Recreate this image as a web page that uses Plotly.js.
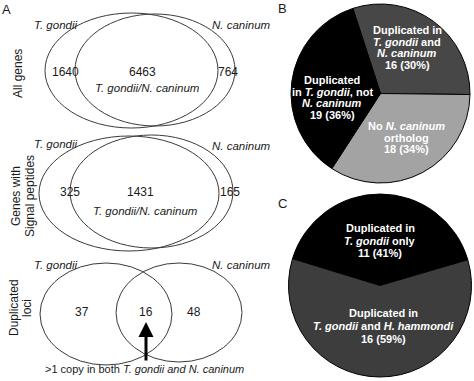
<!DOCTYPE html>
<html><head><meta charset="utf-8">
<script src="https://cdn.plot.ly/plotly-3.0.1.min.js"></script>
<style>html,body{margin:0;padding:0;background:#fff}#chart{width:474px;height:381px}</style>
</head><body><div id="chart"></div>
<script>
// ---- data ----
const vennRows = ['All genes', 'Genes with|Signal peptides', 'Duplicated|loci'];
const tgOnly = [1640, 325, 37];
const shared = [6463, 1431, 16];
const ncOnly = [764, 165, 48];
const speciesA = 'T. gondii';
const speciesB = 'N. caninum';
const sharedLabel = 'T. gondii/N. caninum';
const arrowLabel = '>1 copy in both <i>T. gondii and N. caninum</i>';

const pieBLabels = [
  ['Duplicated in', '<i>T. gondii</i> and', '<i>N. caninum</i>'],
  ['No <i>N. caninum</i>', 'ortholog'],
  ['Duplicated', 'in <i>T. gondii</i>, not', '<i>N. caninum</i>']
];
const pieBValues = [16, 18, 19];
const pieBColors = ['#474747', '#a3a3a3', '#000000'];

const pieCLabels = [
  ['Duplicated in', '<i>T. gondii</i> only'],
  ['Duplicated in', '<i>T. gondii</i> and <i>H. hammondi</i>']
];
const pieCValues = [11, 16];
const pieCColors = ['#000000', '#3d3d3d'];

// ---- layout geometry (pixels) ----
const W = 474, H = 381;
const FONT = 'Arial, "Liberation Sans", sans-serif';
const venn = [
  {tg:[45,13,218,128], nc:[75,14,235,126], lblY:25, numY:72, subY:88, x1:65, x2:142, x3:228, rowX:[18], rowY:74},
  {tg:[39,136,219,251], nc:[70,135,233,248], lblY:144, numY:192, subY:211, x1:70, x2:140, x3:230, rowX:[16,30], rowY:196},
  {tg:[40,263,172,365], nc:[116,263,242,362], lblY:265, numY:312, subY:null, x1:82, x2:146, x3:194, rowX:[14,27], rowY:308}
];

const shapes = [], ann = [];
function txt(x, y, text, opt) {
  ann.push(Object.assign({x:x, y:y, xref:'x', yref:'y', text:text, showarrow:false,
    font:{family:FONT, size:12, color:'#1a1a1a'}, xanchor:'center', yanchor:'middle'}, opt||{}));
}
venn.forEach((g, i) => {
  [g.tg, g.nc].forEach(e => shapes.push({type:'circle', xref:'x', yref:'y',
    x0:e[0], y0:e[1], x1:e[2], y1:e[3], line:{color:'#3a3a3a', width:1}}));
  txt(32, g.lblY, '<i>' + speciesA + '</i>', {xanchor:'left', font:{family:FONT, size:11.5, color:'#1a1a1a'}});
  txt(210, g.lblY + (i===1?2:0), '<i>' + speciesB + '</i>', {xanchor:'left', font:{family:FONT, size:11.5, color:'#1a1a1a'}});
  txt(g.x1, g.numY, String(tgOnly[i]));
  txt(g.x2, g.numY, String(shared[i]));
  txt(g.x3, g.numY, String(ncOnly[i]));
  if (g.subY) txt(g.x2 + 5, g.subY, '<i>' + sharedLabel + '</i>', {font:{family:FONT, size:11.5, color:'#1a1a1a'}});
  vennRows[i].split('|').forEach((ln, k) => txt(g.rowX[k], g.rowY, ln, {textangle:-90}));
});
// arrow
ann.push({x:146, y:322, ax:146, ay:362, xref:'x', yref:'y', axref:'x', ayref:'y', text:'',
  showarrow:true, arrowhead:2, arrowsize:1, arrowwidth:3, arrowcolor:'#000'});
txt(43, 369, arrowLabel, {xanchor:'left', font:{family:FONT, size:11, color:'#1a1a1a'}});
// panel letters
txt(6, 9, 'A', {font:{family:FONT, size:13, color:'#1a1a1a'}});
txt(282, 8, 'B', {font:{family:FONT, size:13, color:'#1a1a1a'}});
txt(282, 203, 'C', {font:{family:FONT, size:13, color:'#1a1a1a'}});

// pie label annotations
function pct(v, arr) { const s = arr.reduce((a,b)=>a+b,0); return Math.round(100*v/s); }
function block(cx, topY, lines, step, size) {
  lines.forEach((ln, k) => txt(cx, topY + k*step, '<b>' + ln + '</b>',
    {font:{family:FONT, size:size, color:'#ffffff'}}));
}
const bPos = [[407, 30], [406, 126], [332, 80]];
pieBLabels.forEach((l, i) => block(bPos[i][0], bPos[i][1],
  l.concat([pieBValues[i] + ' (' + pct(pieBValues[i], pieBValues) + '%)']), 11.7, 11));
const cPos = [[380, 228, 12.5], [383, 313, 13]];
pieCLabels.forEach((l, i) => block(cPos[i][0], cPos[i][1],
  l.concat([pieCValues[i] + ' (' + pct(pieCValues[i], pieCValues) + '%)']), cPos[i][2], 11));

function dom(cx, cy, r) {
  return {x:[(cx - r)/W, (cx + r)/W], y:[1 - (cy + r)/H, 1 - (cy - r)/H]};
}
const traces = [
  {type:'pie', values:pieBValues, marker:{colors:pieBColors, line:{color:'#000', width:1}},
   sort:false, direction:'clockwise', rotation:-18, textinfo:'none', hoverinfo:'none',
   domain:dom(380.5, 93.5, 89.5), showlegend:false},
  {type:'pie', values:pieCValues, marker:{colors:pieCColors, line:{color:'#000', width:1}},
   sort:false, direction:'clockwise', rotation:-73, textinfo:'none', hoverinfo:'none',
   domain:dom(380, 285.5, 91.5), showlegend:false}
];
const layout = {
  width:W, height:H, margin:{l:0, r:0, t:0, b:0}, paper_bgcolor:'#fff', plot_bgcolor:'rgba(0,0,0,0)',
  xaxis:{range:[0, W], visible:false, fixedrange:true, domain:[0,1]},
  yaxis:{range:[H, 0], visible:false, fixedrange:true, domain:[0,1]},
  shapes:shapes, annotations:ann, showlegend:false
};
Plotly.newPlot('chart', traces, layout, {staticPlot:true});
</script></body></html>
